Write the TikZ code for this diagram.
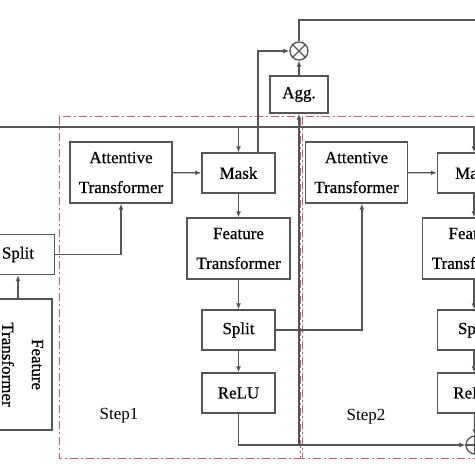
\documentclass[tikz,border=0pt]{standalone}
\usepackage{fontspec}
\setmainfont{Liberation Serif}
\newfontfamily\boxfont{Liberation Serif}[FakeBold=0.6]
\usepackage{xcolor}
\definecolor{cLine}{HTML}{555555}
\definecolor{cStep}{HTML}{C8577A}
\usepackage{tikz}
\usetikzlibrary{positioning,arrows.meta,calc}
\tikzset{
  node-box/.style={draw=cLine,line width=0.4mm,align=center,inner sep=0pt,
    font=\boxfont\fontsize{14.5}{25.5}\selectfont},
  node-att/.style={node-box,minimum width=30.6mm,minimum height=18.3mm},
  node-feat/.style={node-box,minimum width=30.9mm,minimum height=18.3mm},
  node-small/.style={node-box,minimum width=21.9mm,minimum height=12mm},
  node-op/.style={draw=cLine,line width=0.4mm,circle,minimum size=5.4mm,inner sep=0pt},
  node-label/.style={font=\fontsize{14.5}{17}\selectfont},
  arrow/.style={-{Latex[length=1.8mm,width=1.5mm]},line width=0.4mm,draw=cLine},
  line/.style={line width=0.4mm,draw=cLine},
  step-frame/.style={draw=cStep,line width=0.3mm,
    dash pattern=on 2.4mm off 1mm on 0.4mm off 1mm},
}

\begin{document}
\begin{tikzpicture}[x=0.3mm,y=-0.3mm]
  \useasboundingbox (0,0) rectangle (474,474);
  % step frames
  \draw[step-frame] (59,117) rectangle (300,458);
  \draw[step-frame] (302,117) rectangle (495,458);
  \node[node-label] (step1) at (119,416) {Step1};
  \node[node-label] (step2) at (366,417) {Step2};

  % input part
  \node[node-small] (split0) at (18,254.5) {Split};
  \node[node-box,rotate=-90,minimum width=39.3mm,minimum height=17.7mm]
    (ft0) at (22.5,364.5) {Feature\\Transformer};

  % step 1
  \node[node-att] (at1) at (121,172.5) {Attentive\\Transformer};
  \node[node-small] (mask1) at (238.5,173) {Mask};
  \node[node-feat] (ft1) at (238.5,248.5) {Feature\\Transformer};
  \node[node-small] (split1) at (238.5,330) {Split};
  \node[node-small] (relu1) at (238.5,393) {ReLU};

  % step 2
  \node[node-att] (at2) at (356.5,172.5) {Attentive\\Transformer};
  \node[node-small] (mask2) at (474,173) {Mask};
  \node[node-feat] (ft2) at (474,248.5) {Feature\\Transformer};
  \node[node-small] (split2) at (474,330) {Split};
  \node[node-small] (relu2) at (474,393) {ReLU};

  % aggregation
  \node[node-box,minimum width=17.4mm,minimum height=11.1mm] (agg) at (299,94.5) {Agg.};
  \node[node-op] (otimes) at (299,51) {};
  \draw[line] (otimes.north west) -- (otimes.south east)
              (otimes.north east) -- (otimes.south west);
  \node[node-op] (oplus) at (475,445) {};
  \draw[line] (oplus.north) -- (oplus.south) (oplus.west) -- (oplus.east);

  % connectors
  \coordinate (in-l) at (0,127);
  \coordinate (in-r) at (495,127);
  \coordinate (out-r) at (495,20);
  \draw[line] (in-l) -- (in-r);
  \draw[arrow] (mask1.north |- in-l) -- (mask1.north);
  \draw[arrow] (mask2.north |- in-l) -- (mask2.north);
  \draw[arrow] (split0.south |- ft0.west) -- (split0.south);
  \draw[arrow] (split0.east) -| (at1.south);
  \draw[arrow] (at1) -- (mask1);
  \draw[arrow] (mask1) -- (ft1);
  \draw[arrow] (ft1) -- (split1);
  \draw[arrow] (split1) -- (relu1);
  \draw[arrow] (split1.east) -| ([xshift=1.6mm]at2.south);
  \draw[arrow] (at2) -- (mask2);
  \draw[arrow] (mask2) -- (ft2);
  \draw[arrow] (ft2) -- (split2);
  \draw[arrow] (split2) -- (relu2);
  \draw[arrow] (relu2) -- (oplus);
  \draw[arrow] ([xshift=5.85mm]mask1.north) |- (otimes.west);
  \draw[arrow] (agg) -- (otimes);
  \draw[line] (otimes.north) |- (out-r);
  \draw[arrow] (relu1.south) |- (oplus.west);
  \draw[arrow] (agg.south |- oplus.west) -- (agg.south);
\end{tikzpicture}
\end{document}
